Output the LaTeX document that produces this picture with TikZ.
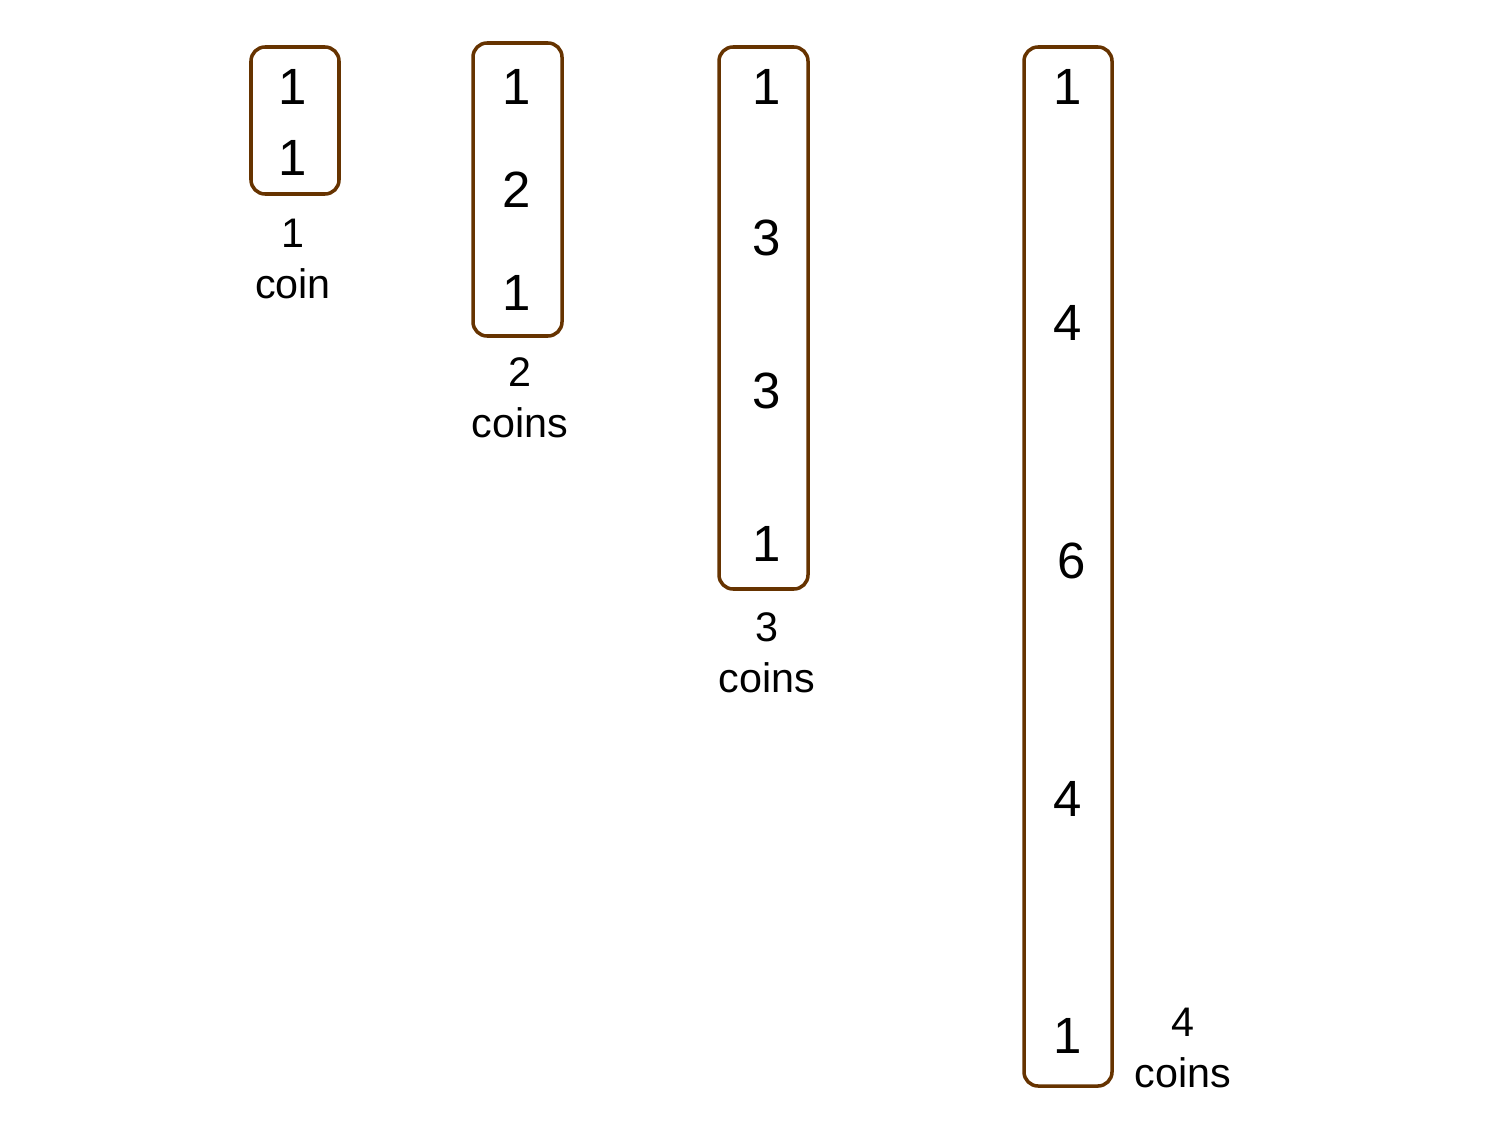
\documentclass[tikz,border=0pt]{standalone}
\usepackage{fontspec}
\setmainfont{Liberation Sans}
\begin{document}
\begin{tikzpicture}[x=0.02cm,y=-0.02cm,
  box/.style={draw={rgb,255:red,102;green,51;blue,0},line width=2pt,rounded corners=8pt,inner sep=0pt},
  num/.style={font=\fontsize{29}{29}\selectfont,inner sep=0pt},
  lab/.style={font=\fontsize{23.5}{29}\selectfont,align=center,inner sep=0pt}]
\useasboundingbox (0,0) rectangle (1500,1125);
\node[box,minimum width=88*0.02cm,minimum height=147*0.02cm] (b1) at (295,120.5) {};
\node[box,minimum width=89*0.02cm,minimum height=293*0.02cm] (b2) at (517.5,189.5) {};
\node[box,minimum width=89*0.02cm,minimum height=542*0.02cm] (b3) at (763.5,318) {};
\node[box,minimum width=88*0.02cm,minimum height=1039*0.02cm] (b4) at (1068,566.5) {};
\node[num] (a1) at (293,87) {1};
\node[num] (a2) at (293,158) {1};
\node[lab] (l1) at (293,259) {1\\coin};
\node[num] (c1) at (517,87) {1};
\node[num] (c2) at (517,190) {2};
\node[num] (c3) at (517,293) {1};
\node[lab] (l2) at (520,398) {2\\coins};
\node[num] (d1) at (767,87) {1};
\node[num] (d2) at (767,238) {3};
\node[num] (d3) at (767,391) {3};
\node[num] (d4) at (767,544) {1};
\node[lab] (l3) at (767,653) {3\\coins};
\node[num] (e1) at (1068,87) {1};
\node[num] (e2) at (1068,323) {4};
\node[num] (e3) at (1072,561) {6};
\node[num] (e4) at (1068,799) {4};
\node[num] (e5) at (1068,1036) {1};
\node[lab] (l4) at (1183,1048) {4\\coins};
\end{tikzpicture}
\end{document}
